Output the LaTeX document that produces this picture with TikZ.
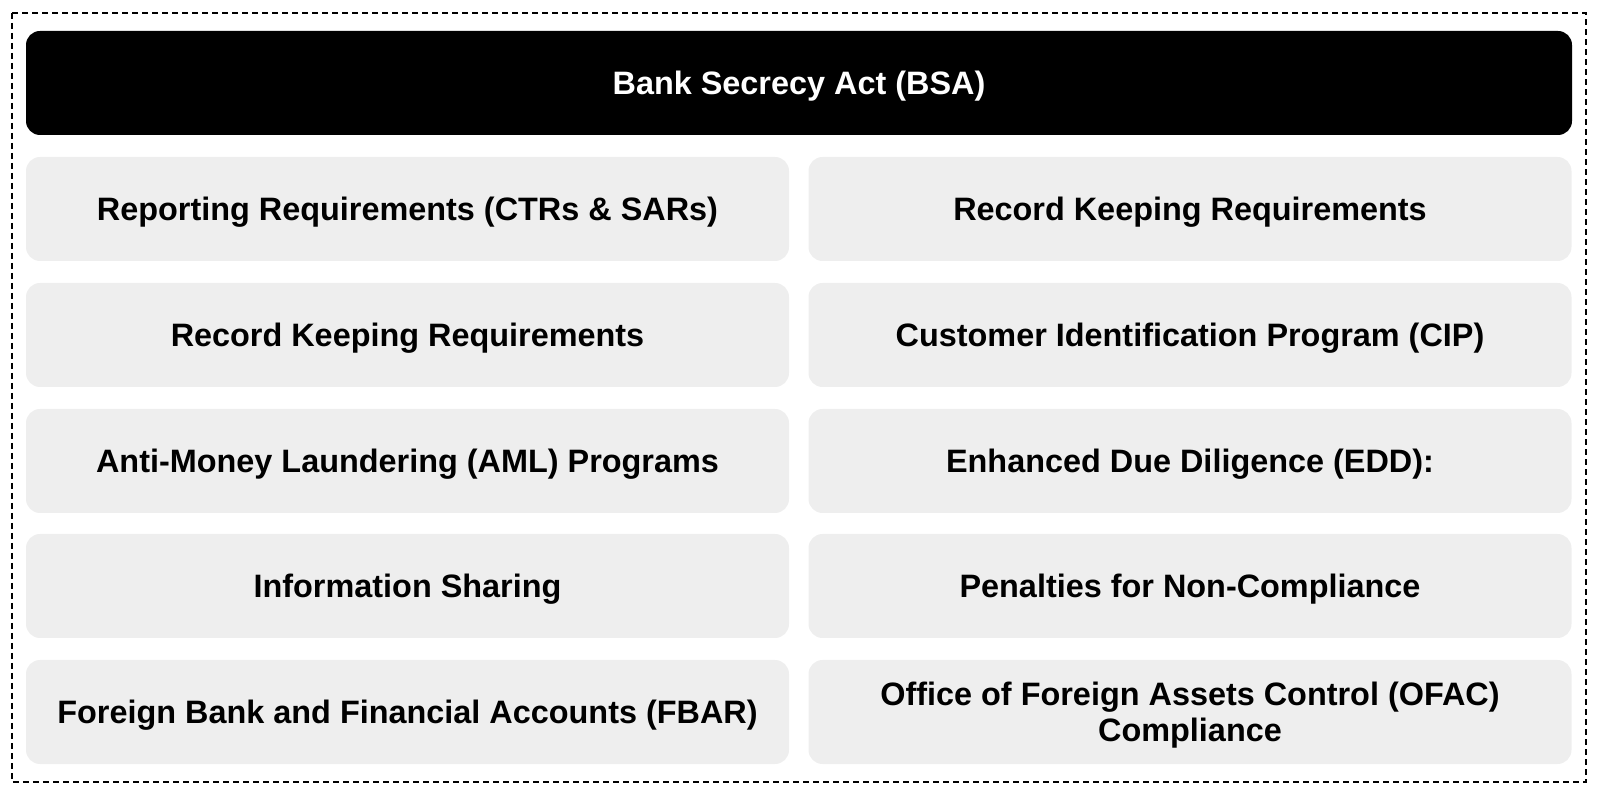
\documentclass[tikz,border=0pt]{standalone}
\usepackage{fontspec}
\setmainfont{Liberation Sans}
\definecolor{boxgray}{HTML}{EEEEEE}
\tikzset{
  framebox/.style={draw=black, line width=0.85pt, dash pattern=on 3pt off 2pt},
  titlebox/.style={fill=black, text=white, rounded corners=7pt, inner sep=0pt,
    minimum width=773pt, minimum height=52pt, align=center, text depth=0pt,
    font=\fontsize{16.2pt}{18pt}\selectfont\bfseries},
  itembox/.style={fill=boxgray, text=black, rounded corners=7pt, inner sep=0pt,
    minimum width=381.5pt, minimum height=52pt, align=center, text depth=0pt,
    font=\fontsize{16.2pt}{18pt}\selectfont\bfseries}
}
\begin{document}
\begin{tikzpicture}[x=0.5pt,y=-0.5pt]
\useasboundingbox (0,0) rectangle (1600,795);
\draw[framebox] (12,13) rectangle (1586,782);
\node[titlebox] (bsa) at (799,83) {Bank Secrecy Act (BSA)};
% left column
\node[itembox] (l1) at (407.5,209) {Reporting Requirements (CTRs \& SARs)};
\node[itembox] (l2) at (407.5,335) {Record Keeping Requirements};
\node[itembox] (l3) at (407.5,461) {Anti-Money Laundering (AML) Programs};
\node[itembox] (l4) at (407.5,586) {Information Sharing};
\node[itembox] (l5) at (407.5,712) {Foreign Bank and Financial Accounts (FBAR)};
% right column
\node[itembox] (r1) at (1190,209) {Record Keeping Requirements};
\node[itembox] (r2) at (1190,335) {Customer Identification Program (CIP)};
\node[itembox] (r3) at (1190,461) {Enhanced Due Diligence (EDD):};
\node[itembox] (r4) at (1190,586) {Penalties for Non-Compliance};
\node[itembox] (r5) at (1190,712) {Office of Foreign Assets Control (OFAC)\\Compliance};
\end{tikzpicture}
\end{document}
